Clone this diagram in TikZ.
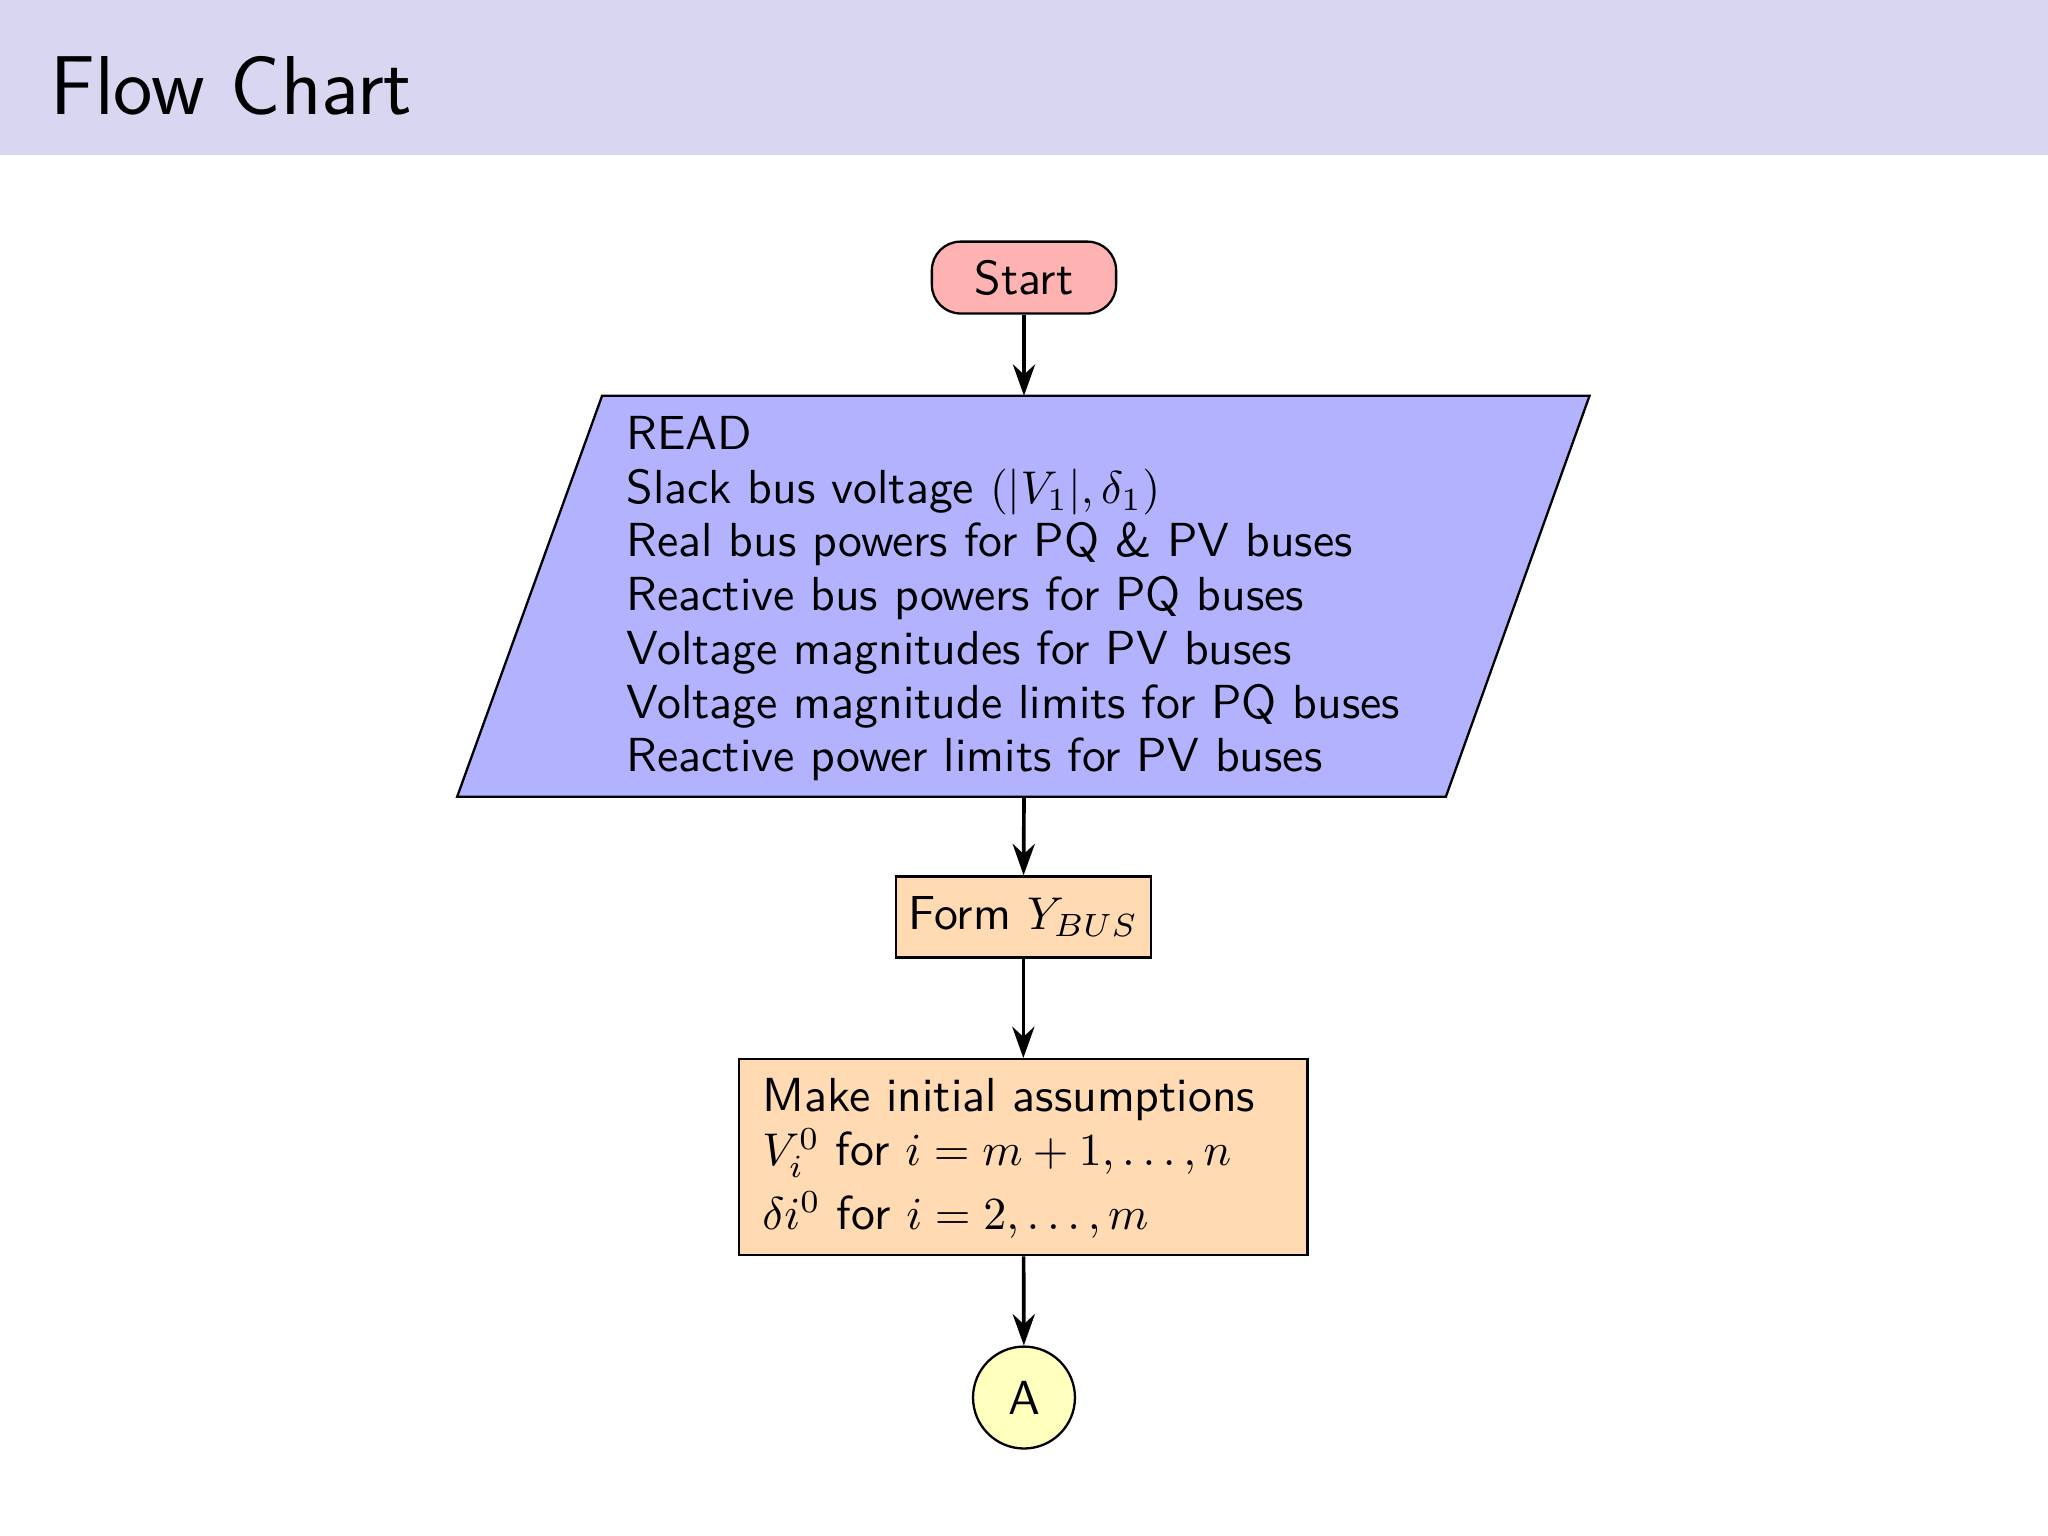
\documentclass[tikz,border=0pt]{standalone}
\usetikzlibrary{arrows.meta}
\renewcommand{\familydefault}{\sfdefault}
\definecolor{banner}{RGB}{217,214,242}
\definecolor{startc}{RGB}{255,178,178}
\definecolor{readc}{RGB}{178,178,255}
\definecolor{procc}{RGB}{255,218,178}
\definecolor{conc}{RGB}{255,255,190}
\tikzset{
  x=0.01cm,y=-0.01cm,
  txt/.style={font=\fontsize{10.4pt}{11.8pt}\selectfont\sffamily},
  arr/.style={-{Stealth[length=2.4mm,width=1.7mm]},line width=0.8pt},
}
\begin{document}
\begin{tikzpicture}
\useasboundingbox (0,0) rectangle (1568,1176);
\fill[banner] (0,0) rectangle (1568,119);
\node[anchor=base west,inner sep=0,font=\fontsize{18.2pt}{22pt}\selectfont\sffamily] (title) at (38,88) {Flow Chart};
% Start
\node[txt,draw,fill=startc,rounded corners=2.2mm,minimum width=1.41cm,minimum height=0.55cm,line width=0.5pt] (start) at (784,212.5) {Start};
% Read parallelogram
\filldraw[fill=readc,line width=0.5pt] (461,303) -- (1217,303) -- (1107,610) -- (350,610) -- cycle;
\coordinate (readtop) at (784,303);
\coordinate (readbot) at (784,610);
\node[anchor=north west,inner sep=0,align=left,font=\fontsize{10.4pt}{11.7pt}\selectfont\sffamily] (read) at (479,318) {READ\\
Slack bus voltage $(|V_1|,\delta_1)$\\
Real bus powers for PQ \& PV buses\\
Reactive bus powers for PQ buses\\
Voltage magnitudes for PV buses\\
Voltage magnitude limits for PQ buses\\
Reactive power limits for PV buses};
% Form Ybus
\node[txt,draw,fill=procc,minimum width=1.95cm,minimum height=0.62cm,inner xsep=2.5pt,line width=0.5pt] (ybus) at (783.5,702) {Form $Y_{BUS}$};
% Assumptions
\node[draw,fill=procc,minimum width=4.35cm,minimum height=1.5cm,line width=0.5pt] (assume) at (783.5,886) {};
\node[txt,anchor=north west,inner sep=0,align=left] (assumetxt) at (583,825) {Make initial assumptions\\[0pt]
$V_i^0$ for $i=m+1,\ldots,n$\\[2pt]
$\delta i^0$ for $i=2,\ldots,m$};
% Connector A
\node[txt,draw,fill=conc,circle,minimum size=0.78cm,line width=0.5pt] (A) at (784,1070) {A};
% arrows
\draw[arr] (start) -- (readtop);
\draw[arr] (readbot) -- (ybus);
\draw[arr] (ybus) -- (assume);
\draw[arr] (assume) -- (A);
\end{tikzpicture}
\end{document}
